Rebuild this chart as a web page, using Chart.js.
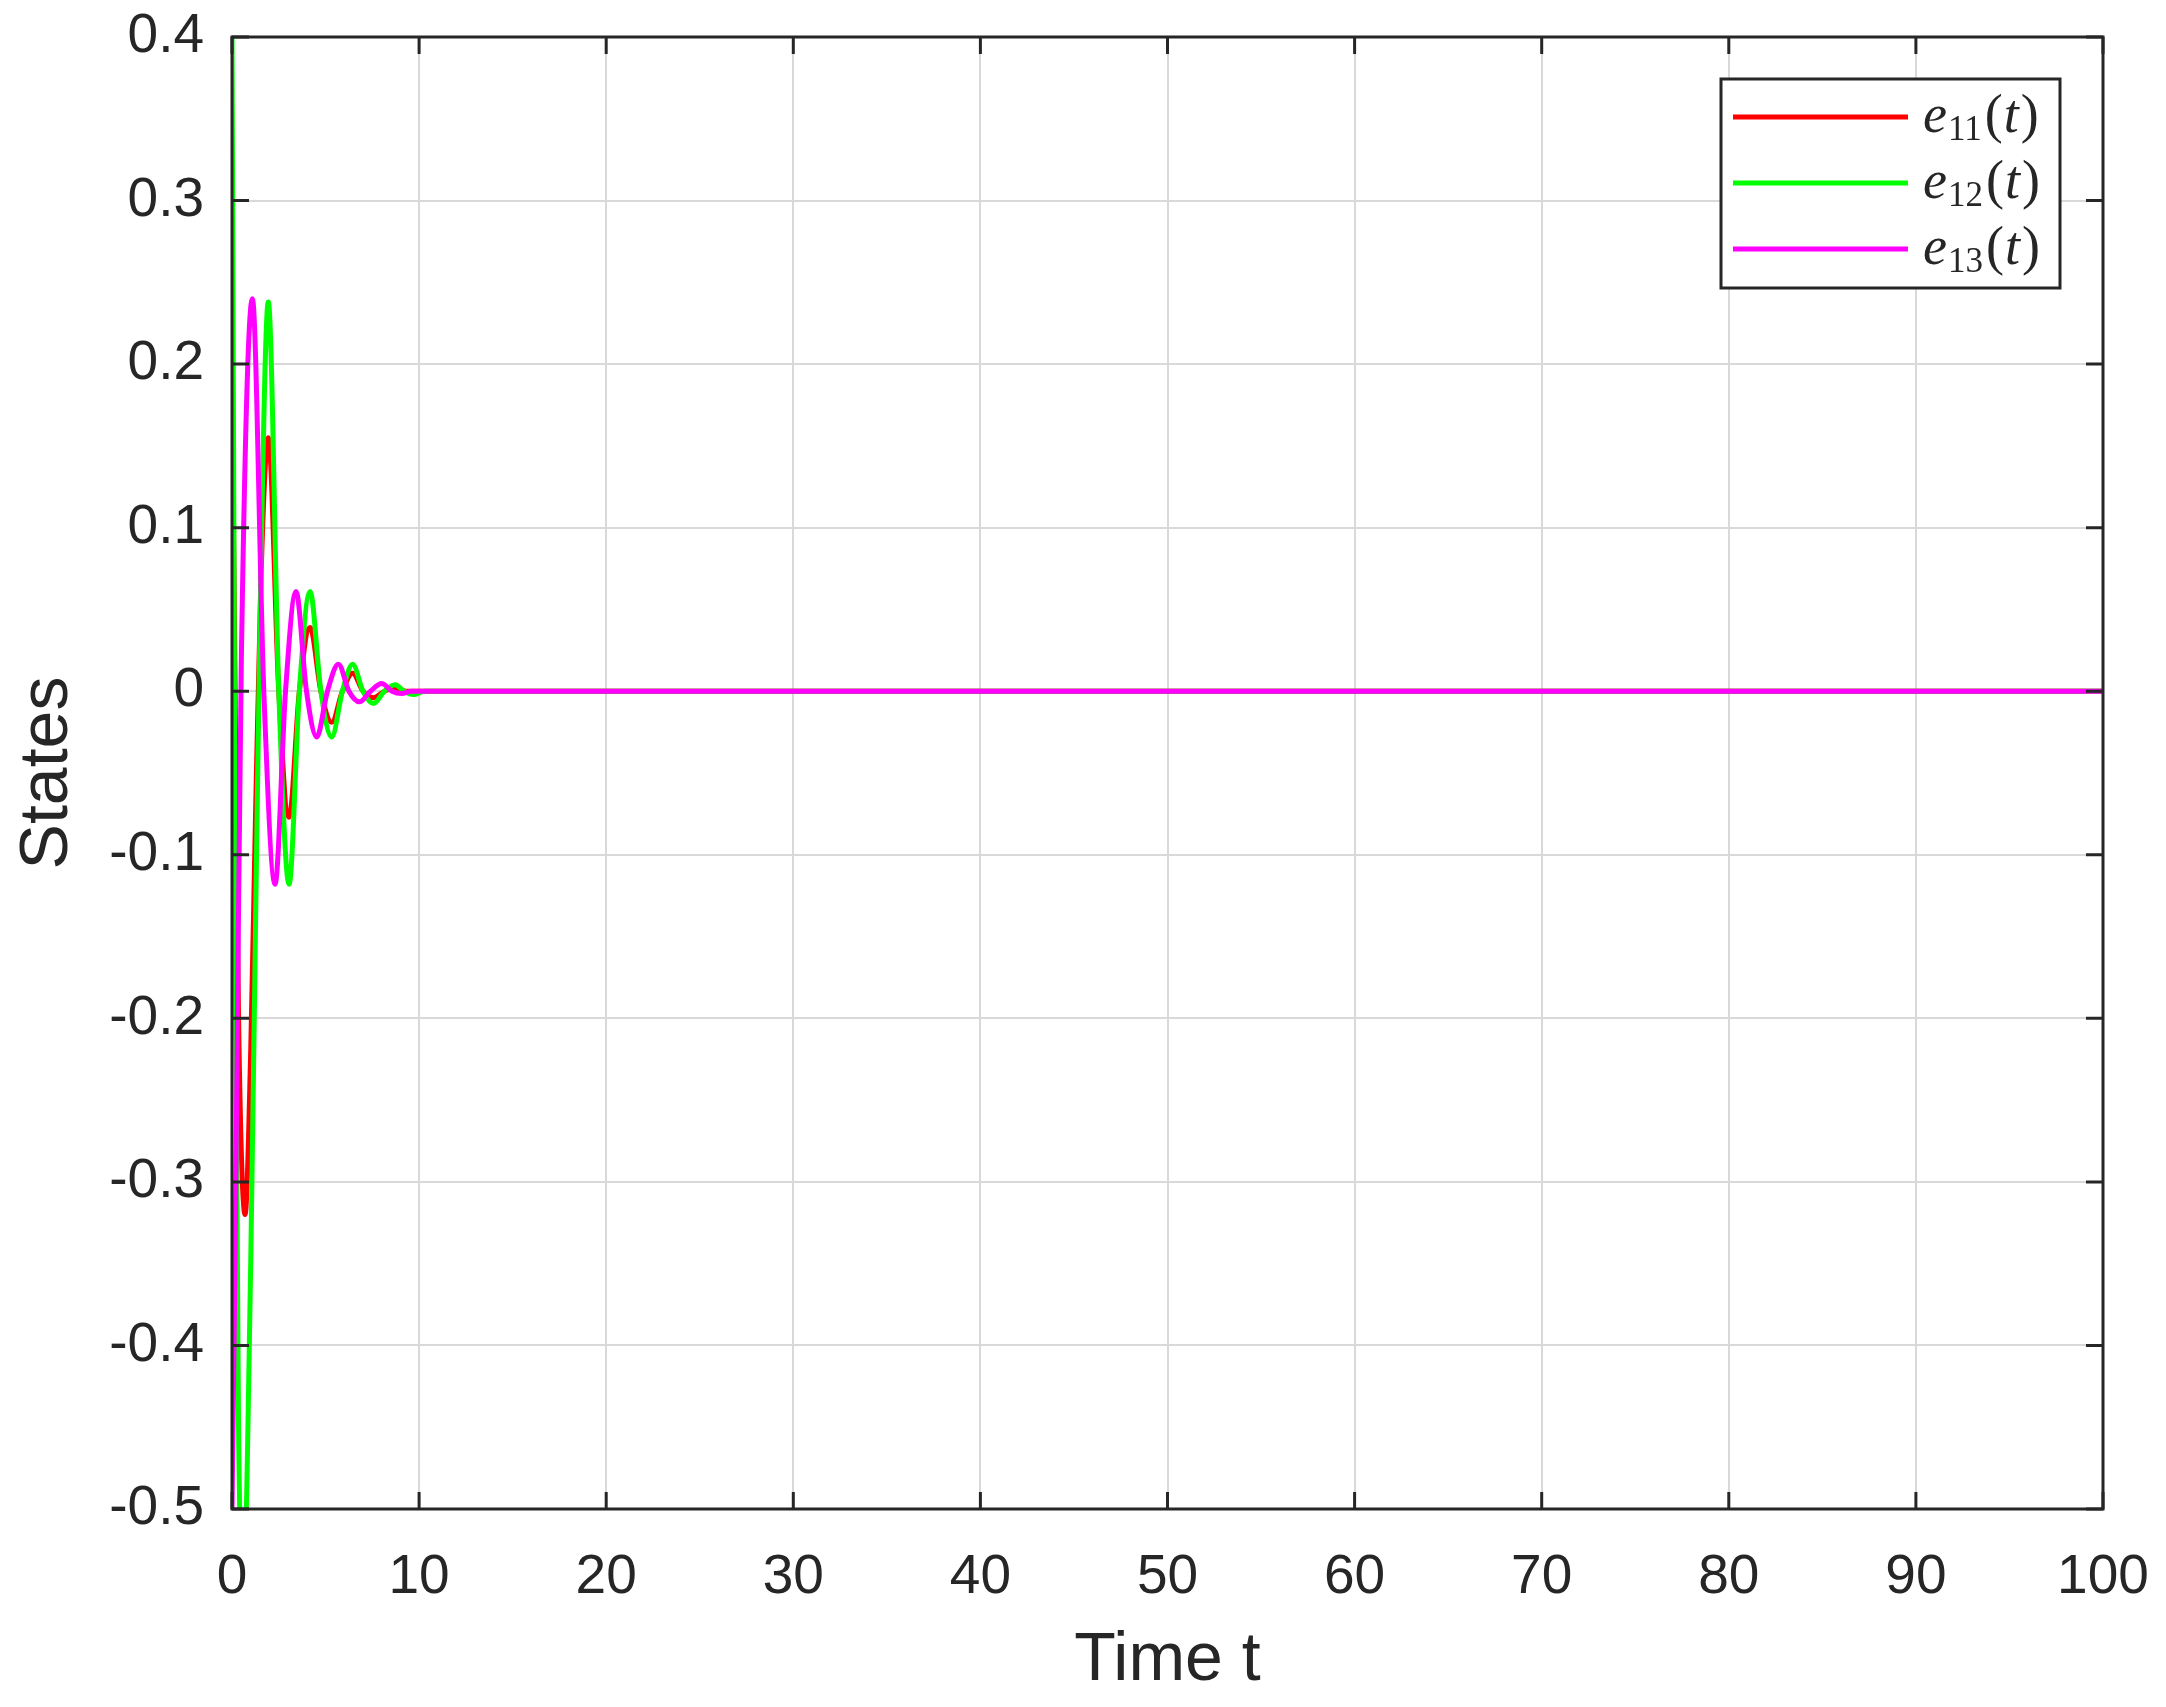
<!DOCTYPE html>
<html>
<head>
<meta charset="utf-8">
<script src="https://cdn.jsdelivr.net/npm/chart.js@4"></script>
<style>
  html, body { margin: 0; padding: 0; background: #fff; }
  #wrap { width: 2166px; height: 1707px; }
</style>
</head>
<body>
<div id="wrap"><canvas id="chart" width="2166" height="1707"></canvas></div>
<script>
// 軸の目盛り
const xTicks = [0, 10, 20, 30, 40, 50, 60, 70, 80, 90, 100];
const yTicks = [-0.5, -0.4, -0.3, -0.2, -0.1, 0, 0.1, 0.2, 0.3, 0.4];

// 凡例の名前
const seriesNames = ['e', 'e', 'e'];
const seriesSubs = ['11', '12', '13'];
const seriesColors = ['#ff0000', '#00ff00', '#ff00ff'];

// e11(t) 赤
const tE11 = [0, 0.15, 0.35, 0.7, 1.0, 1.25, 1.55, 1.94, 2.5, 3.05, 3.6, 4.17, 4.75, 5.33, 5.9, 6.45, 7.0, 7.56, 8.15, 8.72, 9.3, 12, 100];
const e11 = [0.2, 0.02, -0.2, -0.32, -0.22, -0.08, 0.07, 0.155, 0, -0.077, 0, 0.039, 0, -0.019, 0, 0.011, 0, -0.004, 0, 0.002, 0, 0, 0];

// e12(t) 緑
const tE12 = [0, 0.1, 0.2, 0.35, 0.6, 1.0, 1.25, 1.55, 1.94, 2.5, 3.05, 3.6, 4.17, 4.75, 5.33, 5.9, 6.45, 7.0, 7.56, 8.15, 8.72, 9.2, 9.7, 10.3, 12, 100];
const e12 = [0.4, 0.1, -0.2, -0.45, -0.55, -0.35, -0.15, 0.08, 0.238, 0, -0.118, 0, 0.061, 0, -0.028, 0, 0.0165, 0, -0.0075, 0, 0.004, 0, -0.002, 0, 0, 0];

// e13(t) マゼンタ
const tE13 = [0, 0.15, 0.3, 0.5, 1.09, 1.7, 2.3, 2.86, 3.42, 3.98, 4.53, 5.1, 5.69, 6.25, 6.81, 7.4, 8.0, 8.55, 9.07, 9.6, 12, 100];
const e13 = [-0.5, -0.36, -0.19, 0.02, 0.24, 0, -0.118, 0, 0.061, 0, -0.028, 0, 0.0165, 0, -0.0065, 0, 0.0047, 0, -0.0014, 0, 0, 0];

const toPoints = (ts, vs) => ts.map((t, i) => ({ x: t, y: vs[i] }));

// 枠と内向きの目盛り
const boxPlugin = {
  id: 'box',
  afterDatasetsDraw(chart) {
    const { ctx, chartArea: a, scales: { x, y } } = chart;
    const len = 17;
    ctx.save();
    ctx.strokeStyle = '#262626';
    ctx.lineWidth = 3;
    ctx.beginPath();
    xTicks.forEach(v => {
      const px = x.getPixelForValue(v);
      ctx.moveTo(px, a.bottom); ctx.lineTo(px, a.bottom - len);
      ctx.moveTo(px, a.top); ctx.lineTo(px, a.top + len);
    });
    yTicks.forEach(v => {
      const py = y.getPixelForValue(v);
      ctx.moveTo(a.left, py); ctx.lineTo(a.left + len, py);
      ctx.moveTo(a.right, py); ctx.lineTo(a.right - len, py);
    });
    ctx.stroke();
    ctx.strokeRect(a.left, a.top, a.right - a.left, a.bottom - a.top);
    ctx.restore();
  }
};

// 数式風の凡例
const legendPlugin = {
  id: 'mathLegend',
  afterDraw(chart) {
    const { ctx, chartArea: a } = chart;
    const bx = a.right - 382, by = a.top + 42, bw = 339, bh = 209;
    ctx.save();
    ctx.fillStyle = '#ffffff';
    ctx.fillRect(bx, by, bw, bh);
    ctx.strokeStyle = '#262626';
    ctx.lineWidth = 3;
    ctx.strokeRect(bx, by, bw, bh);
    seriesNames.forEach((name, i) => {
      const ly = by + 38 + i * 66;
      ctx.strokeStyle = seriesColors[i];
      ctx.lineWidth = 5;
      ctx.beginPath();
      ctx.moveTo(bx + 12, ly);
      ctx.lineTo(bx + 187, ly);
      ctx.stroke();

      let tx = bx + 202;
      const base = ly + 15;
      ctx.fillStyle = '#262626';
      ctx.textBaseline = 'alphabetic';
      ctx.textAlign = 'left';
      ctx.font = 'italic 54px "Liberation Serif", serif';
      ctx.fillText(name, tx, base);
      tx += ctx.measureText(name).width + 1;
      ctx.font = '35px "Liberation Serif", serif';
      ctx.fillText(seriesSubs[i], tx, base + 8);
      tx += ctx.measureText(seriesSubs[i]).width + 3;
      ctx.font = '54px "Liberation Serif", serif';
      ctx.fillText('(', tx, base);
      tx += ctx.measureText('(').width + 1;
      ctx.font = 'italic 54px "Liberation Serif", serif';
      ctx.fillText('t', tx, base);
      tx += ctx.measureText('t').width + 2;
      ctx.font = '54px "Liberation Serif", serif';
      ctx.fillText(')', tx, base);
    });
    ctx.restore();
  }
};

const lineStyle = {
  pointRadius: 0,
  borderWidth: 5,
  fill: false,
  cubicInterpolationMode: 'monotone'
};

new Chart(document.getElementById('chart'), {
  type: 'line',
  data: {
    datasets: [
      { ...lineStyle, label: 'e11(t)', data: toPoints(tE11, e11), borderColor: seriesColors[0], order: 2 },
      { ...lineStyle, label: 'e12(t)', data: toPoints(tE12, e12), borderColor: seriesColors[1], order: 1 },
      { ...lineStyle, label: 'e13(t)', data: toPoints(tE13, e13), borderColor: seriesColors[2], order: 0 }
    ]
  },
  options: {
    responsive: false,
    animation: false,
    devicePixelRatio: 1,
    layout: { padding: { top: 37, right: 63, left: 0, bottom: 0 } },
    plugins: { legend: { display: false }, tooltip: { enabled: false } },
    scales: {
      x: {
        type: 'linear',
        min: 0, max: 100,
        afterFit: s => { s.height = 198; s.paddingLeft = 0; s.paddingRight = 0; },
        afterBuildTicks: s => { s.ticks = xTicks.map(v => ({ value: v })); },
        ticks: {
          color: '#262626',
          font: { family: '"Liberation Sans", Arial, sans-serif', size: 55 },
          padding: 36,
          maxRotation: 0,
          callback: v => String(v)
        },
        grid: { color: '#d9d9d9', lineWidth: 2, drawTicks: false },
        border: { display: false },
        title: {
          display: true,
          text: 'Time t',
          color: '#262626',
          font: { family: '"Liberation Sans", Arial, sans-serif', size: 68 },
          padding: { top: 0, bottom: 5 }
        }
      },
      y: {
        type: 'linear',
        min: -0.5, max: 0.4,
        afterFit: s => { s.width = 232; s.paddingTop = 0; s.paddingBottom = 0; },
        afterBuildTicks: s => { s.ticks = yTicks.map(v => ({ value: v })); },
        ticks: {
          color: '#262626',
          font: { family: '"Liberation Sans", Arial, sans-serif', size: 55 },
          padding: 28,
          callback: v => String(Number(v.toFixed(1)))
        },
        grid: { color: '#d9d9d9', lineWidth: 2, drawTicks: false },
        border: { display: false },
        title: {
          display: true,
          text: 'States',
          color: '#262626',
          font: { family: '"Liberation Sans", Arial, sans-serif', size: 68 },
          padding: { top: 7, bottom: 0 }
        }
      }
    }
  },
  plugins: [boxPlugin, legendPlugin]
});
</script>
</body>
</html>
